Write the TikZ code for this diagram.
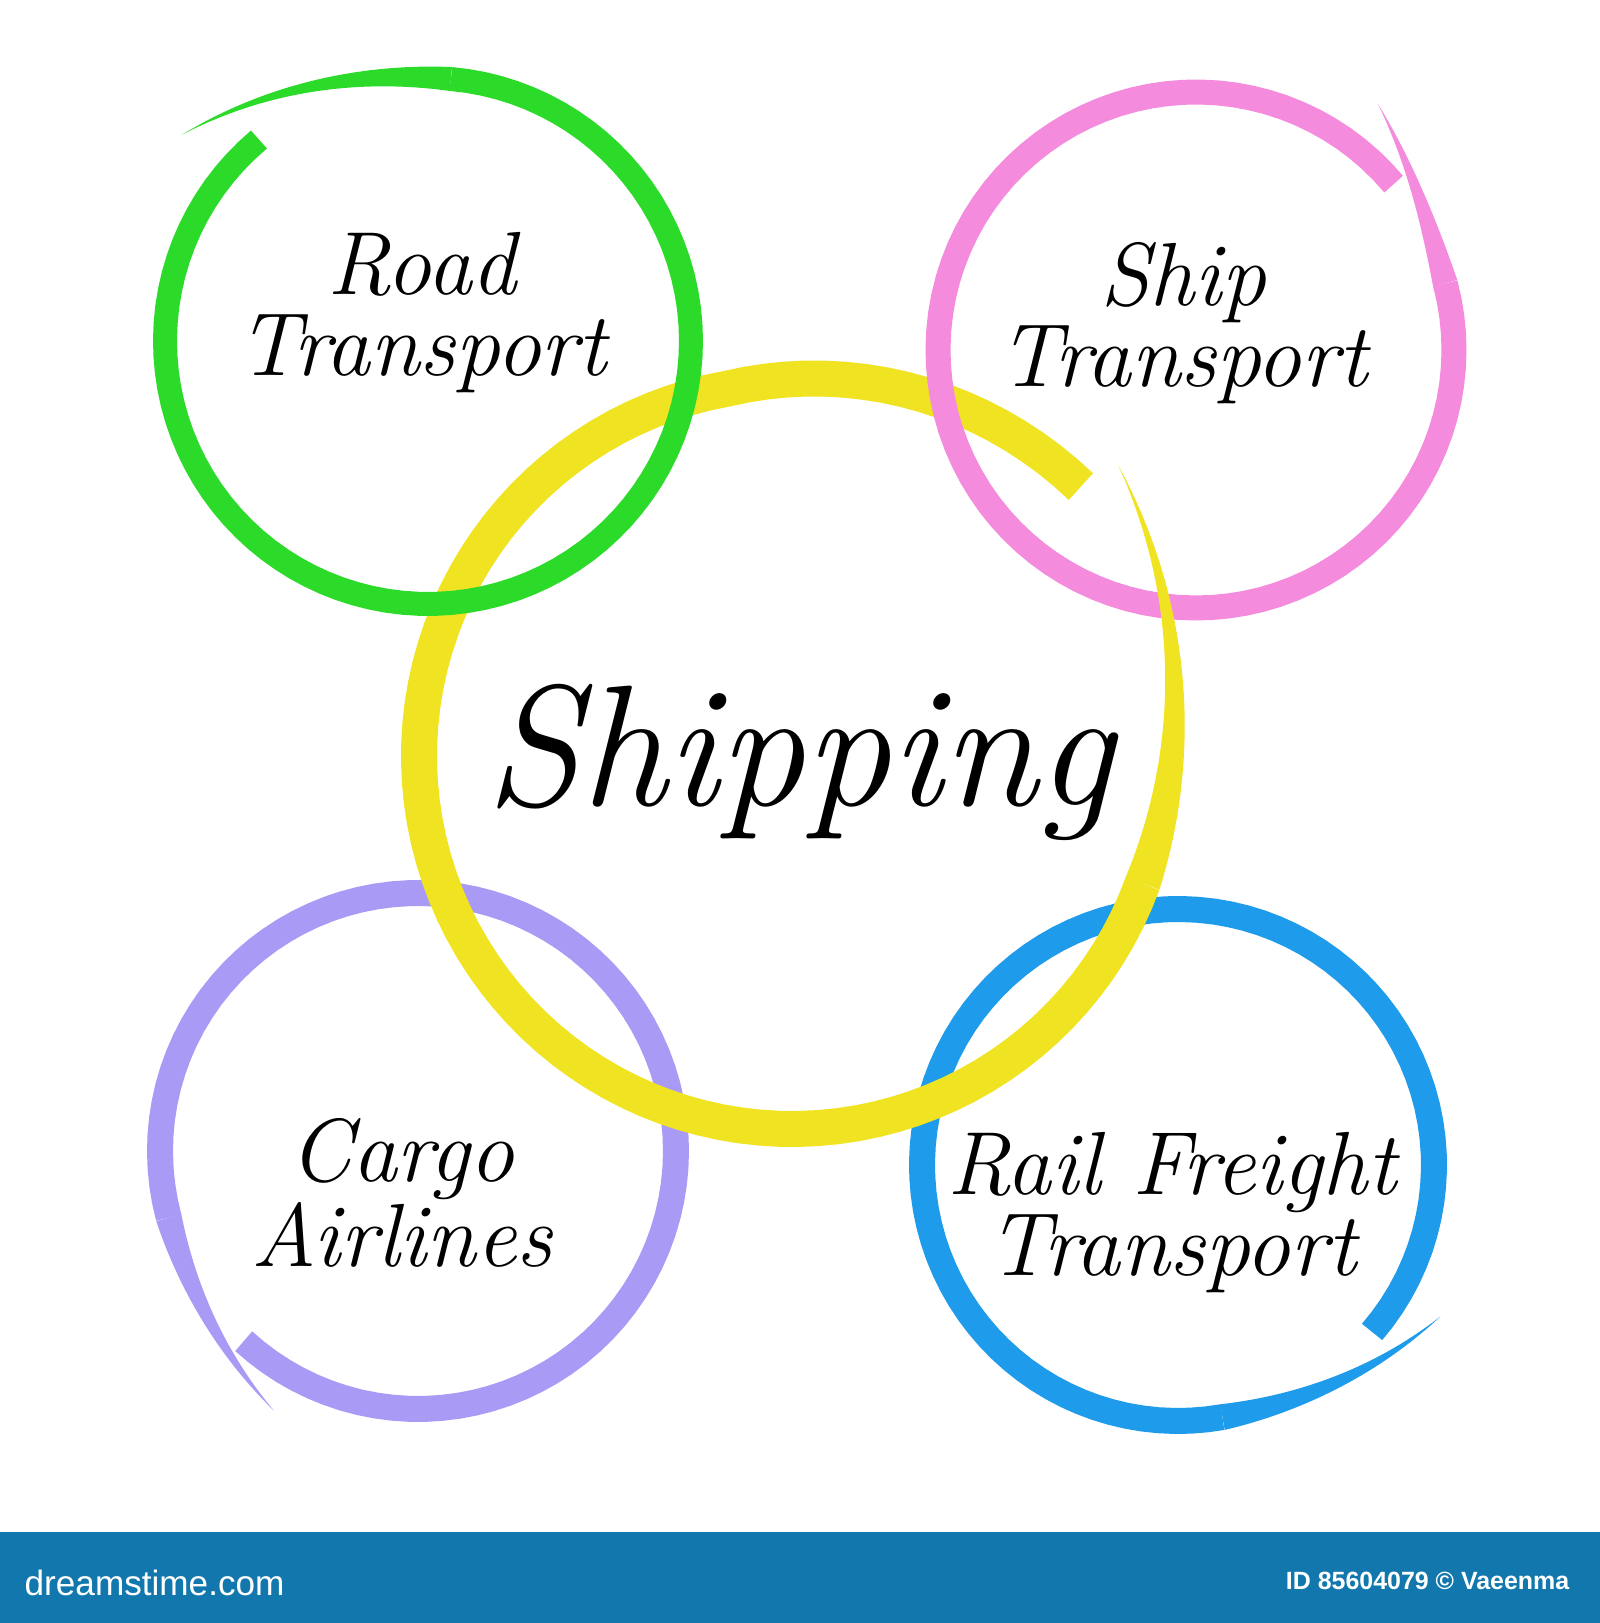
\documentclass[tikz,border=0pt]{standalone}
\usepackage{fontspec}
\usepackage{tikz}
\newfontfamily\bannerfont{Liberation Sans}
\definecolor{colRoad}{HTML}{2CDB2A}
\definecolor{colShip}{HTML}{F48BDC}
\definecolor{colHub}{HTML}{F0E422}
\definecolor{colAir}{HTML}{A99BF5}
\definecolor{colRail}{HTML}{1E9BEA}
\definecolor{colBanner}{HTML}{1177AD}

% tapered end of a brush ring: colour, centre, from, to, r from, r to, half width
\newcommand{\brushtail}[7]{%
  \fill[#1, shift={#2}]
    plot[domain=#3:#4, samples=50] (\x:{#5+(#6-#5)*((\x-#3)/(#4-#3))^2+#7*(1-(\x-#3)/(#4-#3))})
    -- plot[domain=#4:#3, samples=50] (\x:{#5+(#6-#5)*((\x-#3)/(#4-#3))^2-#7*(1-(\x-#3)/(#4-#3))})
    -- cycle;}

\begin{document}
\begin{tikzpicture}[x=0.1mm, y=0.1mm,
  ring/.style={line cap=butt, line join=round},
  lbl/.style={align=center, font=\itshape\fontsize{25.5}{23}\selectfont},
  hub/.style={font=\itshape\fontsize{49}{50}\selectfont},
  brand/.style={text=white, inner sep=0pt, font=\bannerfont\fontsize{10}{11}\selectfont},
  credit/.style={text=white, inner sep=0pt, font=\bannerfont\bfseries\fontsize{7.1}{9}\selectfont}
]
  \useasboundingbox (0,0) rectangle (1600,1623);
  \fill[white] (0,0) rectangle (1600,1623);

  % bottom rings first
  \draw[ring, colAir, line width=2.6mm, shift={(418,472)}]
    plot[domain=227.5:555, samples=90] (\x:258);
  \brushtail{colAir}{(418,472)}{555}{601}{258}{297}{13}
  \draw[ring, colRail, line width=2.6mm, shift={(1178,458)}]
    plot[domain=-40.7:280, samples=90] (\x:256);
  \brushtail{colRail}{(1178,458)}{280}{330}{256}{303}{13}

  % centre ring
  \draw[ring, colHub, line width=3.6mm, shift={(792,867)}]
    plot[domain=43:340, samples=100] (\x:{373+22*max(0,(100-\x)/57)});

  % top rings
  \draw[ring, colRoad, line width=2.4mm, shift={(428,1282)}]
    plot[domain=85:-230, samples=90] (\x:263);
  \brushtail{colRoad}{(428,1282)}{85}{140}{263}{321}{12}
  \draw[ring, colShip, line width=2.5mm, shift={(1196,1273)}]
    plot[domain=40:375, samples=90] (\x:258);
  \brushtail{colShip}{(1196,1273)}{375}{413.5}{258}{306}{12.5}

  \brushtail{colHub}{(792,867)}{340}{401.7}{373}{437}{18}

  \node[lbl] (road)  at (422,1310)  {Road\\Transport};
  \node[lbl] (ship)  at (1183,1300) {Ship\\Transport};
  \node[hub] (hubtx) at (800,861)   {Shipping};
  \node[lbl] (cargo) at (402,430)   {Cargo\\Airlines};
  \node[lbl] (rail)  at (1172,410)  {Rail Freight\\Transport};

  % banner
  \fill[colBanner] (0,0) rectangle (1600,91);
  \node[brand, anchor=west]  (site) at (24,40) {dreamstime.com};
  \node[credit, anchor=east] (id) at (1570,42) {ID 85604079 \textcopyright{} Vaeenma};
\end{tikzpicture}
\end{document}
